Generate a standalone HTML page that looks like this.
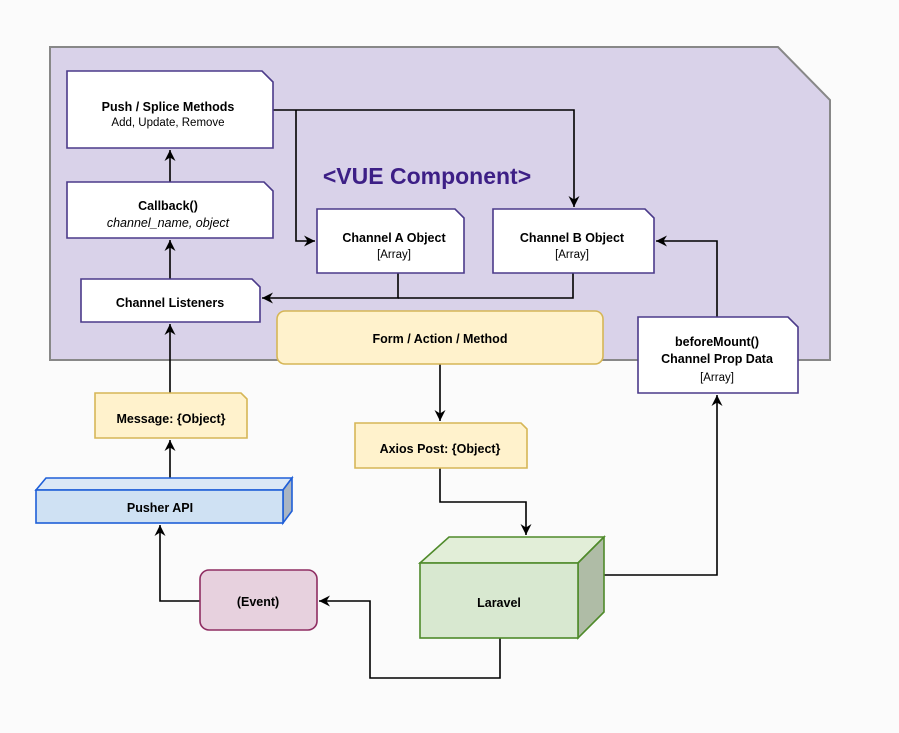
<!DOCTYPE html>
<html><head><style>
body{margin:0;background:#fbfbfb;}
svg{display:block;font-family:"Liberation Sans",Arial,sans-serif;}
</style></head><body>
<svg width="899" height="733" viewBox="0 0 899 733" xmlns="http://www.w3.org/2000/svg">
<defs>
<marker id="a" markerWidth="14" markerHeight="14" refX="12" refY="7" orient="auto" markerUnits="userSpaceOnUse">
<path d="M1,1.5 L12,7 L1,12.5 L4.5,7 Z" fill="#000"/>
</marker>
</defs>
<rect width="899" height="733" fill="#fbfbfb"/>
<path d="M50,47 L778,47 L830,100 L830,360 L50,360 Z" fill="#d9d2e9" stroke="#888" stroke-width="2"/>
<text x="427" y="184" text-anchor="middle" font-size="23" font-weight="bold" fill="#3d1f86">&lt;VUE Component&gt;</text>

<g stroke="#000" stroke-width="1.6" fill="none">
<path d="M273,110 L574,110 L574,207" marker-end="url(#a)"/>
<path d="M296,110 L296,241 L315,241" marker-end="url(#a)"/>
<path d="M398,273 L398,298 L262,298" marker-end="url(#a)"/>
<path d="M573,273 L573,298 L398,298"/>
<path d="M170,279 L170,240" marker-end="url(#a)"/>
<path d="M170,182 L170,150" marker-end="url(#a)"/>
<path d="M170,393 L170,324" marker-end="url(#a)"/>
<path d="M170,478 L170,440" marker-end="url(#a)"/>
<path d="M440,364 L440,421" marker-end="url(#a)"/>
<path d="M440,468 L440,502 L526,502 L526,535" marker-end="url(#a)"/>
<path d="M604,575 L717,575 L717,395" marker-end="url(#a)"/>
<path d="M717,317 L717,241 L656,241" marker-end="url(#a)"/>
<path d="M500,638 L500,678 L370,678 L370,601 L319,601" marker-end="url(#a)"/>
<path d="M200,601 L160,601 L160,525" marker-end="url(#a)"/>
</g>

<g stroke="#4b3a8a" stroke-width="1.6" fill="#fff">
<path d="M67,71 L262,71 L273,82 L273,148 L67,148 Z"/>
<path d="M67,182 L264,182 L273,191 L273,238 L67,238 Z"/>
<path d="M81,279 L252,279 L260,287 L260,322 L81,322 Z"/>
<path d="M317,209 L455,209 L464,218 L464,273 L317,273 Z"/>
<path d="M493,209 L645,209 L654,218 L654,273 L493,273 Z"/>
<path d="M638,317 L788,317 L798,327 L798,393 L638,393 Z"/>
</g>
<rect x="277" y="311" width="326" height="53" rx="8" fill="#fff2cc" stroke="#d6b656" stroke-width="1.6"/>
<g stroke="#d6b656" stroke-width="1.6" fill="#fff2cc">
<path d="M95,393 L241,393 L247,399 L247,438 L95,438 Z"/>
<path d="M355,423 L521,423 L527,429 L527,468 L355,468 Z"/>
</g>
<g stroke="#1f5fd8" stroke-width="1.6">
<path d="M36,490 L46,478 L292,478 L283,490 Z" fill="#dbe8f6"/>
<path d="M283,490 L292,478 L292,511 L283,523 Z" fill="#a9b5c3"/>
<rect x="36" y="490" width="247" height="33" fill="#cfe1f3"/>
</g>
<rect x="200" y="570" width="117" height="60" rx="9" fill="#e7d1de" stroke="#8f2d62" stroke-width="1.6"/>
<g stroke="#4f8a2a" stroke-width="1.6">
<path d="M420,563 L449,537 L604,537 L578,563 Z" fill="#e2eed8"/>
<path d="M578,563 L604,537 L604,612 L578,638 Z" fill="#afbca6"/>
<rect x="420" y="563" width="158" height="75" fill="#d8e8d0"/>
</g>

<g font-size="12.5" font-weight="bold" text-anchor="middle" fill="#000">
<text x="168" y="111">Push / Splice Methods</text>
<text x="168" y="210">Callback()</text>
<text x="170" y="307">Channel Listeners</text>
<text x="394" y="242">Channel A Object</text>
<text x="572" y="242">Channel B Object</text>
<text x="440" y="343">Form / Action / Method</text>
<text x="717" y="346">beforeMount()</text>
<text x="717" y="363">Channel Prop Data</text>
<text x="171" y="423">Message: {Object}</text>
<text x="440" y="453">Axios Post: {Object}</text>
<text x="160" y="512">Pusher API</text>
<text x="258" y="606">(Event)</text>
<text x="499" y="607">Laravel</text>
</g>
<g font-size="11.5" text-anchor="middle" fill="#000">
<text x="168" y="126">Add, Update, Remove</text>
<text x="168" y="227" font-style="italic" font-size="12.5">channel_name, object</text>
<text x="394" y="258">[Array]</text>
<text x="572" y="258">[Array]</text>
<text x="717" y="381">[Array]</text>
</g>
</svg>
</body></html>
